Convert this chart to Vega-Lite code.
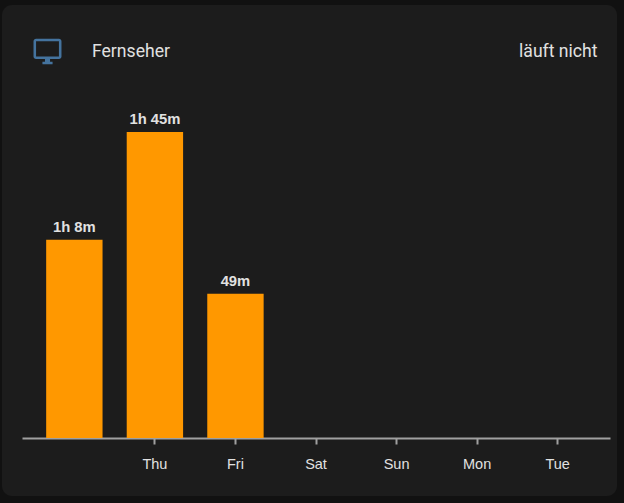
{
  "$schema": "https://vega.github.io/schema/vega-lite/v6.json",
  "autosize": {"type": "none"},
  "padding": {"left": 2, "top": 5, "right": 7, "bottom": 7},
  "width": 615,
  "height": 491,
  "background": "#111111",
  "view": {"fill": "#1c1c1c", "stroke": null, "cornerRadius": 10},
  "data": {
    "values": [
      {"device": "Fernseher", "day": "Wed", "minutes": 68, "label": "1h 8m"},
      {"device": "Fernseher", "day": "Thu", "minutes": 105, "label": "1h 45m"},
      {"device": "Fernseher", "day": "Fri", "minutes": 49.5, "label": "49m"}
    ]
  },
  "encoding": {
    "x": {
      "field": "day",
      "type": "nominal",
      "sort": null,
      "scale": {
        "domain": ["Wed", "Thu", "Fri", "Sat", "Sun", "Mon", "Tue"],
        "range": [20, 608],
        "paddingInner": 0.3,
        "paddingOuter": 0.3
      },
      "axis": {
        "title": "läuft nicht",
        "titleX": 595,
        "titleY": -387,
        "titleAlign": "right",
        "titleBaseline": "middle",
        "titleFont": "Roboto",
        "titleFontSize": 17.6,
        "titleFontWeight": "normal",
        "titleColor": "#e1e1e1",
        "values": ["Thu", "Fri", "Sat", "Sun", "Mon", "Tue"],
        "offset": -58,
        "labelAngle": 0,
        "labelFont": "Liberation Sans",
        "labelFontSize": 14.5,
        "labelColor": "#e1e1e1",
        "labelPadding": 13,
        "domainColor": "#a0a0a0",
        "domainWidth": 2,
        "tickColor": "#a0a0a0",
        "tickWidth": 2,
        "tickSize": 6
      }
    },
    "y": {
      "field": "minutes",
      "type": "quantitative",
      "scale": {"domain": [0, 105], "range": [433, 127], "nice": false},
      "axis": null
    }
  },
  "layer": [
    {
      "mark": {"type": "bar", "color": "#ff9800"}
    },
    {
      "mark": {
        "type": "text",
        "baseline": "bottom",
        "dy": -5,
        "font": "Liberation Sans",
        "fontSize": 14.8,
        "fontWeight": "bold",
        "color": "#e1e1e1"
      },
      "encoding": {"text": {"field": "label"}}
    },
    {
      "mark": {"type": "point", "filled": true, "opacity": 0},
      "encoding": {
        "color": {
          "field": "device",
          "type": "nominal",
          "scale": {"range": ["#44739e"]},
          "legend": {
            "title": null,
            "orient": "none",
            "legendX": 30,
            "legendY": 31,
            "padding": 0,
            "symbolType": "M0.75,0.333H-0.75V-0.667H0.75M0.75,-0.833H-0.75C-0.843,-0.833 -0.917,-0.758 -0.917,-0.667V0.333A0.167,0.167 0 0,0 -0.75,0.5H-0.167V0.667H-0.333V0.833H0.333V0.667H0.167V0.5H0.75A0.167,0.167 0 0,0 0.917,0.333V-0.667C0.917,-0.758 0.842,-0.833 0.75,-0.833Z",
            "symbolSize": 930,
            "symbolOpacity": 1,
            "symbolStrokeWidth": 0,
            "labelOffset": 29,
            "labelFont": "Roboto",
            "labelFontSize": 17.6,
            "labelColor": "#e1e1e1",
            "labelLimit": 200
          }
        }
      }
    }
  ]
}
